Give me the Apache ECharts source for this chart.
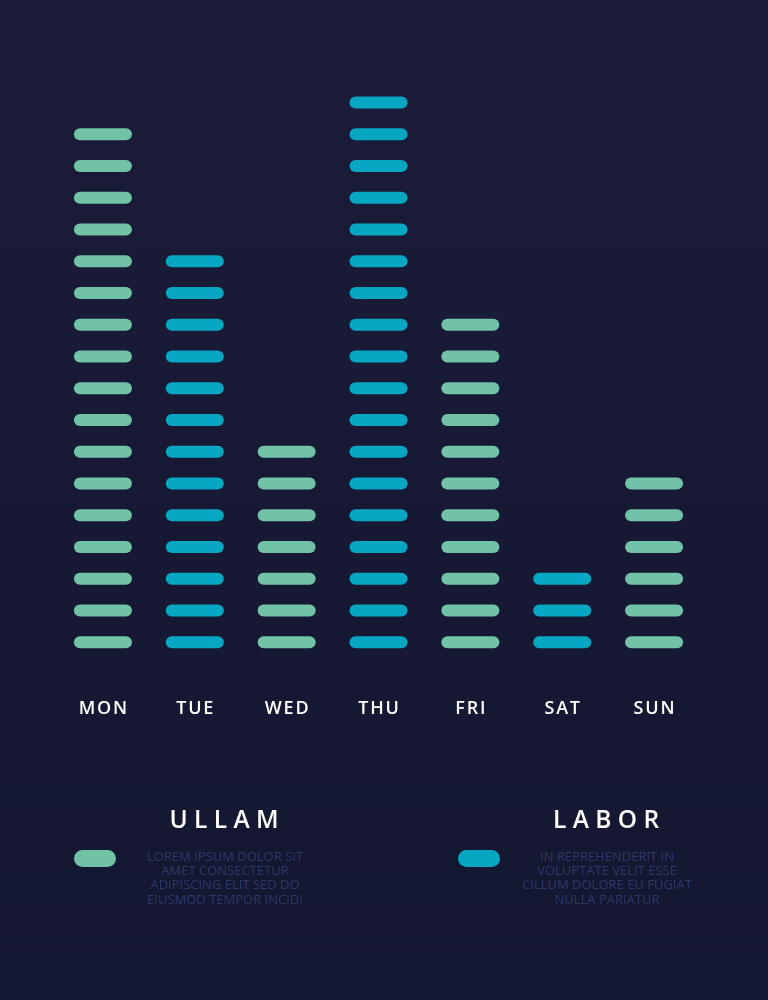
<!DOCTYPE html>
<html>
<head>
<meta charset="utf-8">
<script src="https://cdn.jsdelivr.net/npm/echarts@6/dist/echarts.min.js"></script>
<style>
html,body{margin:0;padding:0;background:#171a34;}
#chart{width:768px;height:1000px;}
</style>
</head>
<body>
<div id="chart"></div>
<script>
var days = ['MON', 'TUE', 'WED', 'THU', 'FRI', 'SAT', 'SUN'];
var counts = [17, 13, 7, 18, 11, 3, 6];
var groups = ['ULLAM', 'LABOR', 'ULLAM', 'LABOR', 'ULLAM', 'LABOR', 'ULLAM'];
var seriesNames = ['ULLAM', 'LABOR'];
var seriesColors = ['#72c2a8', '#07a7c4'];
var legendTexts = [
  ['LOREM IPSUM DOLOR SIT', 'AMET CONSECTETUR', 'ADIPISCING ELIT SED DO', 'EIUSMOD TEMPOR INCIDI'],
  ['IN REPREHENDERIT IN', 'VOLUPTATE VELIT ESSE', 'CILLUM DOLORE EU FUGIAT', 'NULLA PARIATUR']
];

function pillsFor(name) {
  var out = [];
  for (var i = 0; i < days.length; i++) {
    if (groups[i] !== name) continue;
    for (var k = 1; k <= counts[i]; k++) out.push([i, k]);
  }
  return out;
}

var chart = echarts.init(document.getElementById('chart'));

var series = seriesNames.map(function (name, si) {
  return {
    type: 'custom',
    name: name,
    data: pillsFor(name),
    renderItem: function (params, api) {
      var c = api.coord([api.value(0), api.value(1)]);
      return {
        type: 'rect',
        shape: { x: c[0] - 29, y: c[1] - 6, width: 58, height: 12, r: 6 },
        style: { fill: seriesColors[si] }
      };
    }
  };
});

var graphics = [];
var legendX = [224, 606];
var pillX = [74, 458];
seriesNames.forEach(function (name, si) {
  graphics.push({
    type: 'rect', left: pillX[si], top: 850,
    shape: { width: 42, height: 17, r: 8.5 },
    style: { fill: seriesColors[si] }
  });
  graphics.push({
    type: 'text', x: legendX[si], y: 821,
    style: {
      text: name.split('').join(' '),
      fill: '#ffffff', font: '600 24.5px "Open Sans"',
      textAlign: 'center', textVerticalAlign: 'middle'
    }
  });
  graphics.push({
    type: 'text', x: legendX[si] + 1, y: 850,
    style: {
      text: legendTexts[si].join('\n'),
      fill: '#2d386c', font: '13px "Open Sans"', lineHeight: 14.3,
      textAlign: 'center', textVerticalAlign: 'top'
    }
  });
});

chart.setOption({
  backgroundColor: {
    type: 'linear', x: 0, y: 0, x2: 0, y2: 1,
    colorStops: [{ offset: 0, color: '#1a1c39' }, { offset: 1, color: '#141730' }]
  },
  animation: false,
  grid: { left: 57, right: 68, top: 39, bottom: 326 },
  xAxis: {
    type: 'category', data: days,
    axisLine: { show: false }, axisTick: { show: false }, splitLine: { show: false },
    axisLabel: {
      color: '#ffffff', fontSize: 18, fontFamily: 'Open Sans', fontWeight: 600,
      margin: 26,
      formatter: function (v) { return v.split('').join('\u200a'); }
    }
  },
  yAxis: {
    type: 'value', min: 0, max: 20, interval: 1, show: false,
    splitLine: { show: false }
  },
  series: series,
  graphic: graphics
});
</script>
</body>
</html>
